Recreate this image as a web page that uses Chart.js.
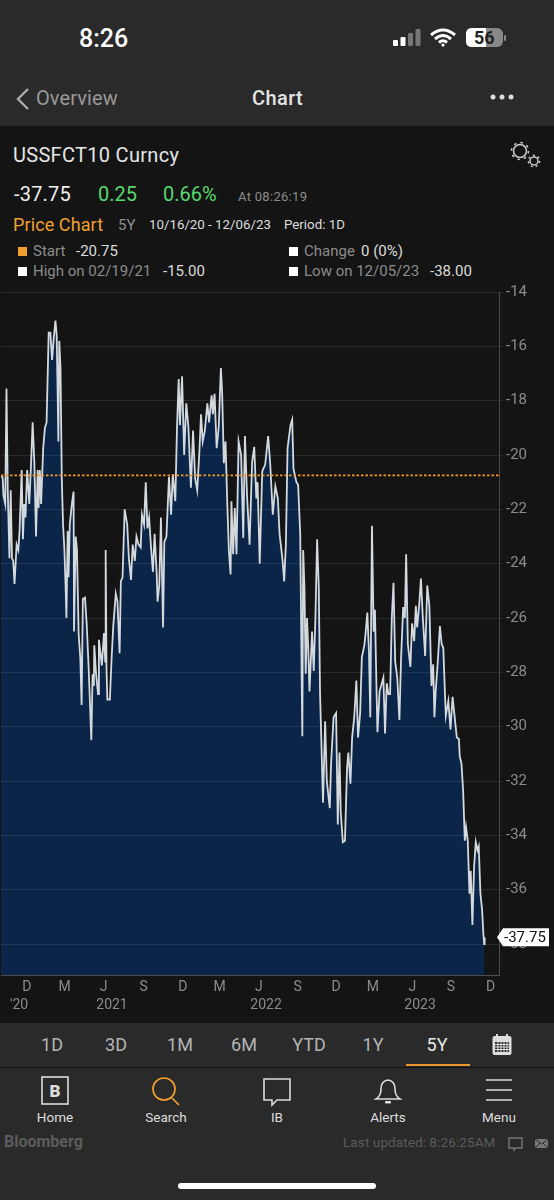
<!DOCTYPE html>
<html>
<head>
<meta charset="utf-8">
<title>USSFCT10 Curncy</title>
<script src="https://cdn.jsdelivr.net/npm/chart.js@4"></script>
<style>
  html, body { margin: 0; padding: 0; background: #2a2a2a; }
  #screen { position: relative; width: 554px; height: 1200px; overflow: hidden; background: #2a2a2a;
    font-family: Roboto, sans-serif; color: #ddd; }
  #panel { position: absolute; left: 0; top: 126px; width: 554px; height: 897px; background: #141414; }
  #price-chart { position: absolute; left: 0; top: 280px; }
  .t { position: absolute; white-space: nowrap; line-height: 1; }
  .gray { color: #8c8c8c; }
  .green { color: #58d86e; }
  .orange { color: #f0a030; }
  .sq { position: absolute; width: 9px; height: 9px; background: #fff; }
  .tab { position: absolute; top: 1036px; width: 60px; text-align: center; font-size: 18px; color: #b4b4b4; line-height: 1; }
  .nav { position: absolute; top: 1111px; width: 80px; text-align: center; font-size: 13.5px; color: #ddd; line-height: 1; }
  svg { position: absolute; }
</style>
</head>
<body>
<div id="screen">
  <div id="panel"></div>

  <!-- status bar -->
  <div class="t" style="left:79px;top:26px;font-size:25px;font-weight:500;color:#fff">8:26</div>
  <svg style="left:390px;top:27px" width="118" height="22" viewBox="0 0 118 22">
    <rect x="3" y="13" width="5" height="6" rx="1" fill="#fff"/>
    <rect x="10.500" y="10" width="5" height="9" rx="1" fill="#fff"/>
    <rect x="18" y="6" width="5" height="13" rx="1" fill="#777"/>
    <rect x="25.500" y="2" width="5" height="17" rx="1" fill="#777"/>
    <path d="M41 8 Q53 -2 65 8 M45 12 Q53 5 61 12 M49 15.500 Q53 12 57 15.500" stroke="#fff" stroke-width="3" fill="none"/>
    <circle cx="53" cy="18" r="1.600" fill="#fff"/>
    <rect x="76" y="1" width="37" height="19" rx="6" fill="#888"/>
    <path d="M82 1 H96 V20 H82 Q76 20 76 14 V7 Q76 1 82 1 Z" fill="#fff"/>
    <rect x="114" y="8" width="2" height="6" rx="1" fill="#888"/>
  </svg>
  <div class="t" style="left:474px;top:29px;font-size:18px;font-weight:700;color:#222">56</div>

  <!-- title bar -->
  <svg style="left:14px;top:86px" width="18" height="26" viewBox="0 0 18 26"><path d="M14 3 L4 13 L14 23" stroke="#aaa" stroke-width="2.400" fill="none"/></svg>
  <div class="t gray" style="left:36px;top:88px;font-size:20px;color:#999;letter-spacing:.1px">Overview</div>
  <div class="t" style="left:252px;top:88px;font-size:20px;font-weight:500;color:#e4e4e4;letter-spacing:.4px">Chart</div>
  <svg style="left:488px;top:92px" width="28" height="10" viewBox="0 0 28 10">
    <circle cx="5" cy="5" r="2.500" fill="#ddd"/><circle cx="14" cy="5" r="2.500" fill="#ddd"/><circle cx="23" cy="5" r="2.500" fill="#ddd"/>
  </svg>

  <!-- quote header -->
  <div class="t" style="left:13px;top:145px;font-size:20px;color:#e6e6e6;letter-spacing:.3px">USSFCT10 Curncy</div>
  <svg style="left:508px;top:140px" width="34" height="30" viewBox="0 0 34 30">
    <g fill="none" stroke="#ccc" stroke-width="1.500">
      <circle cx="12" cy="11" r="6.500"/><circle cx="12" cy="11" r="8.500" stroke-dasharray="2.500 4.200"/>
      <circle cx="26" cy="21" r="4"/><circle cx="26" cy="21" r="5.700" stroke-dasharray="2 3"/>
    </g>
  </svg>
  <div class="t" style="left:14px;top:184px;font-size:20px;color:#eee;letter-spacing:.2px">-37.75</div>
  <div class="t green" style="left:98px;top:184px;font-size:20px">0.25</div>
  <div class="t green" style="left:163px;top:184px;font-size:20px">0.66%</div>
  <div class="t gray" style="left:238px;top:190px;font-size:13px;letter-spacing:.3px">At 08:26:19</div>
  <div class="t orange" style="left:13px;top:216px;font-size:18px;letter-spacing:.1px">Price Chart</div>
  <div class="t gray" style="left:118px;top:218px;font-size:15px">5Y</div>
  <div class="t" style="left:149px;top:218px;font-size:13.300px">10/16/20 - 12/06/23</div>
  <div class="t" style="left:284px;top:218px;font-size:13.300px">Period: 1D</div>

  <div class="sq" style="left:18px;top:247px;background:#f0a030"></div>
  <div class="t gray" style="left:33px;top:244px;font-size:15px">Start</div>
  <div class="t" style="left:76px;top:244px;font-size:15px">-20.75</div>
  <div class="sq" style="left:289px;top:247px"></div>
  <div class="t gray" style="left:304px;top:244px;font-size:15px">Change</div>
  <div class="t" style="left:361px;top:244px;font-size:15px">0 (0%)</div>
  <div class="sq" style="left:18px;top:267px"></div>
  <div class="t gray" style="left:33px;top:264px;font-size:15px">High on 02/19/21</div>
  <div class="t" style="left:163px;top:264px;font-size:15px">-15.00</div>
  <div class="sq" style="left:289px;top:267px"></div>
  <div class="t gray" style="left:304px;top:264px;font-size:15px">Low on 12/05/23</div>
  <div class="t" style="left:430px;top:264px;font-size:15px">-38.00</div>

  <canvas id="price-chart" width="554" height="743"></canvas>

  <!-- range tabs -->
  <div class="tab" style="left:22px">1D</div>
  <div class="tab" style="left:86px">3D</div>
  <div class="tab" style="left:150px">1M</div>
  <div class="tab" style="left:214px">6M</div>
  <div class="tab" style="left:279px">YTD</div>
  <div class="tab" style="left:343px">1Y</div>
  <div class="tab" style="left:407px;color:#e8e8e8">5Y</div>
  <svg style="left:492px;top:1034px" width="20" height="22" viewBox="0 0 20 22">
    <rect x="0.500" y="2" width="19" height="19" rx="2" fill="#ddd"/>
    <rect x="3" y="8" width="14" height="10" fill="#2a2a2a"/>
    <path d="M3 10.500H17M3 13H17M3 15.500H17M6 8V18M9 8V18M12 8V18M15 8V18" stroke="#ddd" stroke-width="1"/>
    <rect x="4" y="0" width="2" height="4" fill="#ddd"/><rect x="14" y="0" width="2" height="4" fill="#ddd"/>
  </svg>
  <div style="position:absolute;left:406px;top:1064px;width:64px;height:2px;background:#e8982c"></div>
  <div style="position:absolute;left:0;top:1067px;width:554px;height:1px;background:#111"></div>

  <!-- bottom nav -->
  <svg style="left:40px;top:1075px" width="30" height="32" viewBox="0 0 30 32">
    <rect x="2" y="2" width="26" height="27" fill="none" stroke="#ddd" stroke-width="1.600"/>
    <text x="15" y="22" text-anchor="middle" font-family="Roboto" font-weight="900" font-size="17" fill="#ddd">B</text>
  </svg>
  <div class="nav" style="left:15px">Home</div>
  <svg style="left:150px;top:1074px" width="32" height="34" viewBox="0 0 32 34">
    <circle cx="14" cy="15" r="11" fill="none" stroke="#f0a030" stroke-width="1.700"/>
    <path d="M22 24 L29 31" stroke="#f0a030" stroke-width="1.700"/>
  </svg>
  <div class="nav orange" style="left:126px">Search</div>
  <svg style="left:262px;top:1076px" width="30" height="32" viewBox="0 0 30 32">
    <path d="M2 3 H28 V24 H15 L10 29 V24 H2 Z" fill="none" stroke="#ddd" stroke-width="1.600"/>
  </svg>
  <div class="nav" style="left:237px">IB</div>
  <svg style="left:373px;top:1076px" width="30" height="32" viewBox="0 0 30 32">
    <path d="M3 23 Q8 20 8 13 Q8 5 15 4 Q22 5 22 13 Q22 20 27 23 Z" fill="none" stroke="#ddd" stroke-width="1.600"/>
    <rect x="12" y="25" width="6" height="2.500" rx="1" fill="#ddd"/>
  </svg>
  <div class="nav" style="left:348px">Alerts</div>
  <svg style="left:484px;top:1078px" width="30" height="26" viewBox="0 0 30 26">
    <path d="M2 2H28M2 12H28M2 22H28" stroke="#ddd" stroke-width="1.500"/>
  </svg>
  <div class="nav" style="left:459px">Menu</div>

  <div class="t" style="left:4px;top:1134px;font-size:16px;font-weight:700;color:#5c5c5c">Bloomberg</div>
  <div class="t" style="left:343px;top:1136px;font-size:13.500px;color:#5c5c5c;letter-spacing:.1px">Last updated: 8:26:25AM</div>
  <svg style="left:507px;top:1136px" width="44" height="16" viewBox="0 0 44 16">
    <path d="M2 2H15V12H9L7 14V12H2Z" fill="none" stroke="#777" stroke-width="1.400"/>
    <rect x="28" y="3" width="13" height="9" fill="#777"/>
    <path d="M28 3L34.500 8L41 3M28 12L33 7M41 12L36 7" stroke="#2a2a2a" stroke-width="1" fill="none"/>
  </svg>
  <div style="position:absolute;left:178px;top:1183px;width:198px;height:6px;border-radius:3px;background:#fff"></div>
</div>

<script>
// calendar days since 10/16/20
const days = [0,4,6,10,13,16,20,23,26,29,32,37,41,44,49,52,55,58,62,67,71,75,79,83,87,89,92,95,100,104,108,113,117,121,125,129,132,136,138,141,144,147,150,153,155,158,160,163,168,172,173,177,180,184,188,191,194,199,203,208,214,217,220,221,225,230,232,239,244,247,248,250,252,258,262,266,272,276,281,284,288,293,299,303,308,312,317,321,326,331,334,339,343,347,351,355,360,364,369,371,375,379,384,387,392,398,403,407,413,417,421,424,429,434,439,444,450,455,460,465,470,474,478,483,489,493,499,502,506,511,516,521,524,528,532,536,540,544,546,550,554,558,563,569,574,578,583,589,595,600,605,608,613,619,626,633,638,644,650,656,660,667,671,675,679,686,690,693,700,704,709,713,714,716,719,722,725,728,731,737,741,745,749,753,756,763,768,772,779,782,788,794,798,802,805,810,815,820,823,828,832,837,842,846,851,855,861,864,868,872,875,879,883,886,890,892,897,906,910,914,918,922,926,930,934,939,944,948,953,957,960,964,970,974,979,983,986,991,995,999,1005,1010,1015,1020,1024,1027,1030,1035,1040,1044,1048,1052,1054,1060,1065,1070,1076,1080,1085,1087,1091,1095,1099,1102,1106,1110,1113,1117,1121,1125,1129,1132,1136,1140,1143,1145,1146];
const values = [-20.75,-20.85,-21.5,-21.8,-17.55,-21.3,-23.8,-21.3,-23.8,-23.9,-24.75,-23.3,-23.5,-22.8,-20.55,-23.1,-21.8,-22.3,-20.55,-21.8,-20.4,-18.8,-20.3,-23,-20.55,-21.95,-20.55,-21.8,-19.75,-19,-18.8,-15.5,-15.5,-16.5,-15.7,-15.05,-15.6,-19.5,-15.8,-16.8,-20.85,-22.55,-23.4,-24.8,-26,-22.8,-24.5,-22.55,-21.8,-21.35,-26.5,-23,-23.5,-26.6,-27.5,-29.2,-25.3,-25.25,-26.2,-27.95,-30.5,-28.07,-28.5,-27,-28,-28.8,-26.8,-27.75,-26.55,-27.6,-23.5,-27.9,-29,-29,-27.5,-26.3,-25.1,-25.4,-27.3,-24.65,-24.5,-22,-22.55,-23.8,-24.6,-23.3,-23.9,-23,-23.3,-23.4,-22.2,-22.55,-21,-22.7,-22.3,-23.3,-24.3,-22.9,-24.4,-25.4,-24.8,-22.3,-26.35,-23.2,-23,-20.8,-22.2,-20.7,-21.7,-19,-17.2,-18.9,-17.1,-20,-18.1,-18.95,-21.2,-19.1,-20.85,-21.3,-19.9,-18.5,-19.5,-19.1,-18.1,-18.8,-17.8,-18.5,-17.75,-19.75,-18.95,-16.8,-17.7,-20.3,-19.5,-21.7,-23.55,-24.4,-21.7,-23.65,-21.95,-23.65,-19.5,-20,-23.05,-19.3,-21.5,-23.3,-20.25,-19.7,-21.6,-21,-24,-20.6,-20.35,-19.3,-20.35,-22.2,-21.15,-21.6,-22.9,-23.85,-24.65,-23.3,-19.75,-18.9,-18.7,-20.5,-21,-21.1,-22.9,-29,-30.35,-23.5,-24.9,-28.05,-26,-27.1,-28.7,-26.5,-27.95,-26,-23.1,-24.9,-28.8,-32.8,-29.8,-32,-33,-31.4,-29.65,-29.5,-33.6,-30.95,-33.15,-34.25,-34.2,-31.5,-30.95,-32.1,-30.4,-29.65,-28.3,-30.4,-29.5,-27.45,-27,-26.55,-25.8,-27.3,-29.65,-22.6,-26.5,-25.7,-28.8,-30.2,-28.7,-28.2,-30.25,-28.4,-28.8,-28.8,-26,-24.7,-27.6,-28.2,-29.75,-27.45,-25.6,-26,-23.65,-26.95,-27.8,-26.2,-26.85,-25.55,-26.35,-25.5,-24.55,-25.85,-27.4,-24.8,-25.55,-28.5,-27.7,-29.65,-28.7,-27.6,-26.3,-26.95,-27.1,-28.8,-29.6,-29.05,-30.1,-28.9,-29.8,-30.4,-30.45,-31.1,-31.35,-32.35,-34.2,-33.7,-34.2,-36.15,-35.3,-37.3,-35.15,-34.25,-34.55,-34.4,-36.15,-36.75,-37.65,-38,-37.75];
const startValue = -20.75;

const yTicks = [-14,-16,-18,-20,-22,-24,-26,-28,-30,-32,-34,-36,-38];
const monthDays = [61,151,243,338,431,518,611,703,794,881,975,1066,1160];
const monthLabels = ['D','M','J','S','D','M','J','S','D','M','J','S','D'];
const yearDays = [43,263,628,993];
const yearLabels = ["'20",'2021','2022','2023'];

const X_MAX = 1180;
const Y_MIN = -39.14;

// white price tag on the right axis
const lastPriceTag = {
  id: 'lastPriceTag',
  afterDraw(chart) {
    const c = chart.ctx;
    const y = chart.scales.y.getPixelForValue(values[values.length - 1]);
    c.save();
    c.fillStyle = '#fff';
    c.beginPath();
    c.moveTo(497, y);
    c.lineTo(503, y - 9);
    c.lineTo(549, y - 9);
    c.lineTo(549, y + 9);
    c.lineTo(503, y + 9);
    c.closePath();
    c.fill();
    c.fillStyle = '#111';
    c.font = '15px Roboto';
    c.textAlign = 'left';
    c.textBaseline = 'middle';
    c.fillText(values[values.length - 1].toFixed(2), 504, y + 1);
    c.restore();
  }
};

new Chart(document.getElementById('price-chart'), {
  type: 'line',
  data: {
    datasets: [{
      data: days.map((d, i) => ({ x: d, y: values[i] })),
      borderColor: '#d4d9de',
      borderWidth: 1.8,
      backgroundColor: '#0a2547',
      fill: 'start',
      pointRadius: 0,
      tension: 0,
      order: 2,
    }, {
      data: [{ x: 0, y: startValue }, { x: X_MAX, y: startValue }],
      borderColor: '#f59a23',
      borderWidth: 1.8,
      borderDash: [2.5, 2],
      fill: false,
      pointRadius: 0,
      order: 1,
    }]
  },
  options: {
    responsive: false,
    animation: false,
    events: [],
    layout: { padding: { left: 1, top: 10, right: 0, bottom: 0 } },
    plugins: { legend: { display: false }, tooltip: { enabled: false } },
    scales: {
      x: {
        type: 'linear',
        min: 0,
        max: X_MAX,
        position: 'bottom',
        afterBuildTicks: scale => { scale.ticks = monthDays.map(v => ({ value: v })); },
        afterFit: scale => { scale.height = 20; },
        grid: { display: false, drawTicks: false },
        border: { color: '#4c4c4c' },
        ticks: {
          autoSkip: false,
          maxRotation: 0,
          padding: 4,
          color: '#8c8c8c',
          font: { size: 14, family: 'Roboto' },
          callback: v => monthLabels[monthDays.indexOf(v)],
        }
      },
      years: {
        type: 'linear',
        axis: 'x',
        min: 0,
        max: X_MAX,
        position: 'bottom',
        afterBuildTicks: scale => { scale.ticks = yearDays.map(v => ({ value: v })); },
        afterFit: scale => { scale.height = 28; },
        grid: { display: false, drawTicks: false },
        border: { display: false },
        ticks: {
          autoSkip: false,
          maxRotation: 0,
          padding: 2,
          color: '#8c8c8c',
          font: { size: 14, family: 'Roboto' },
          callback: v => yearLabels[yearDays.indexOf(v)],
        }
      },
      y: {
        type: 'linear',
        position: 'right',
        min: Y_MIN,
        max: -14,
        afterBuildTicks: scale => { scale.ticks = yTicks.map(v => ({ value: v })); },
        afterFit: scale => { scale.width = 55; },
        // border needs the same z as the grid or it loses its x position
        grid: { color: 'rgba(255,255,255,0.09)', z: 1, tickLength: 4 },
        border: { color: '#4c4c4c', z: 1 },
        ticks: {
          padding: 3,
          color: '#8c8c8c',
          font: { size: 15, family: 'Roboto' },
          callback: v => String(v),
        }
      }
    }
  },
  plugins: [lastPriceTag]
});
</script>
</body>
</html>
